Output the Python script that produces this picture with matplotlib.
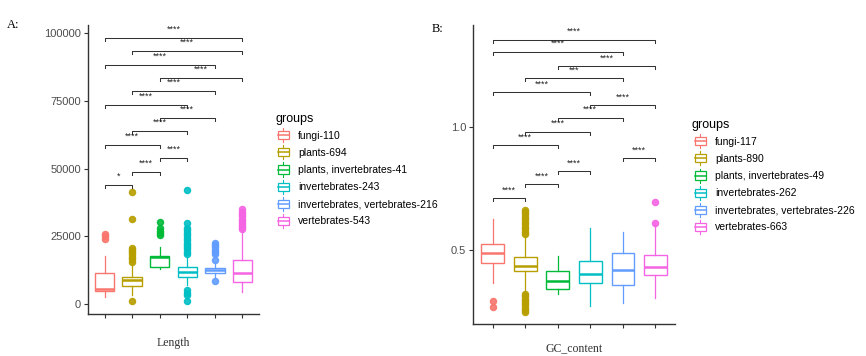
import matplotlib
matplotlib.use("Agg")
import matplotlib.pyplot as plt
from matplotlib.legend_handler import HandlerBase
from matplotlib.patches import Rectangle, Patch
from matplotlib.lines import Line2D

plt.rcParams["font.family"] = ["Liberation Sans", "DejaVu Sans"]

groups = ["fungi", "plants", "plants, invertebrates", "invertebrates",
          "invertebrates, vertebrates", "vertebrates"]
colors = ["#F8766D", "#B79F00", "#00BA38", "#00BFC4", "#619CFF", "#F564E3"]
counts_len = [110, 694, 41, 243, 216, 543]
counts_gc = [117, 890, 49, 262, 226, 663]

# Length box stats
len_whislo = [2500, 3300, 12800, 7000, 10100, 4500]
len_q1 = [4800, 6650, 13800, 10100, 11330, 8240]
len_med = [5540, 8980, 17360, 11820, 12440, 11330]
len_q3 = [11330, 10090, 17720, 13550, 13180, 16140]
len_whishi = [17700, 15200, 20900, 17500, 15000, 27000]
len_fliers = [
    [24000, 25000, 26000],
    [1100, 15600, 16500, 17400, 18300, 19200, 20100, 20600, 31300, 41500],
    [25500, 26300, 27100, 28000, 30400],
    [1100, 3300, 4200, 5200, 18500, 19300, 20200, 21000, 21800, 22600,
     23600, 24500, 25400, 26300, 27200, 28000, 30000, 42100],
    [8500, 16100, 18500, 19300, 20100, 20900, 21700, 22400],
    [27500, 28300, 29100, 29900, 30700, 31500, 32300, 33100, 34000, 35000],
]

# GC content box stats
gc_whislo = [0.365, 0.325, 0.320, 0.274, 0.287, 0.304]
gc_q1 = [0.446, 0.415, 0.341, 0.365, 0.358, 0.401]
gc_med = [0.487, 0.436, 0.374, 0.405, 0.419, 0.432]
gc_q3 = [0.527, 0.473, 0.415, 0.455, 0.487, 0.482]
gc_whishi = [0.626, 0.560, 0.477, 0.591, 0.575, 0.609]
gc_fliers = [
    [0.268, 0.293],
    [0.249, 0.258, 0.267, 0.276, 0.285, 0.294, 0.303, 0.312, 0.320,
     0.565, 0.575, 0.585, 0.595, 0.605, 0.615, 0.625, 0.635, 0.645, 0.655, 0.663],
    [],
    [],
    [],
    [0.609, 0.696],
]

# significance brackets
len_pairs = [(1, 2), (2, 3), (3, 4), (1, 3), (2, 4), (3, 5), (1, 4), (2, 5),
             (3, 6), (1, 5), (2, 6), (1, 6)]
len_bracket_y = [43900, 48700, 53900, 58700, 63900, 68700, 73500, 78700,
                 83500, 88300, 93400, 98200]
len_signif = ["*"] + ["****"] * 11

gc_pairs = [(1, 2), (2, 3), (3, 4), (5, 6), (1, 3), (2, 4), (3, 5), (4, 6),
            (1, 4), (2, 5), (3, 6), (1, 5), (1, 6)]
gc_bracket_y = [0.711, 0.768, 0.821, 0.874, 0.927, 0.980, 1.037, 1.089,
                1.142, 1.199, 1.248, 1.305, 1.354]
gc_signif = ["****"] * 9 + ["***"] + ["****"] * 3


class BoxKey(HandlerBase):
    def create_artists(self, legend, orig_handle, xdescent, ydescent,
                       width, height, fontsize, trans):
        c = orig_handle.get_edgecolor()
        x0, y0 = -xdescent, -ydescent
        bw, bh = width * 0.65, height * 0.58
        bx, by = x0 + (width - bw) / 2, y0 + (height - bh) / 2
        cx = x0 + width / 2
        w1 = Line2D([cx, cx], [y0, by], color=c, lw=0.8, transform=trans)
        w2 = Line2D([cx, cx], [by + bh, y0 + height], color=c, lw=0.8, transform=trans)
        box = Rectangle((bx, by), bw, bh, facecolor="white", edgecolor=c,
                        lw=0.9, transform=trans)
        med = Line2D([bx, bx + bw], [by + bh / 2] * 2, color=c, lw=1.1, transform=trans)
        return [w1, w2, box, med]


def draw_panel(ax, whislo, q1, med, q3, whishi, fliers, pairs, ys, signif, tick_d):
    stats = []
    for i in range(6):
        stats.append(dict(whislo=whislo[i], q1=q1[i], med=med[i], q3=q3[i],
                          whishi=whishi[i], fliers=fliers[i]))
    bp = ax.bxp(stats, positions=range(1, 7), widths=0.7, patch_artist=True,
                showcaps=False, manage_ticks=False)
    for i, c in enumerate(colors):
        bp["boxes"][i].set(facecolor="white", edgecolor=c, linewidth=1.0)
        bp["medians"][i].set(color=c, linewidth=1.8)
        for w in bp["whiskers"][2 * i:2 * i + 2]:
            w.set(color=c, linewidth=0.9, linestyle="-")
        bp["fliers"][i].set(marker="o", markerfacecolor=c, markeredgecolor=c,
                            markersize=4.4, alpha=0.9)

    for (a, b), y, s in zip(pairs, ys, signif):
        ax.plot([a, a, b, b], [y - tick_d, y, y, y - tick_d], color="#333333", lw=0.75)
        ax.annotate(s, ((a + b) / 2, y), xytext=(0, 6), textcoords="offset points",
                    ha="center", va="center", fontsize=6.5, color="#222222")

    ax.set_xlim(0.4, 6.6)
    ax.set_xticks(range(1, 7))
    ax.set_xticklabels([])
    for side in ["top", "right"]:
        ax.spines[side].set_visible(False)
    for side in ["left", "bottom"]:
        ax.spines[side].set_color("#333333")
        ax.spines[side].set_linewidth(1.0)
    ax.tick_params(length=3, width=0.8, color="#333333", labelsize=8,
                   labelcolor="#4D4D4D", pad=2)


fig = plt.figure(figsize=(8.66, 3.56), dpi=100)

axA = fig.add_axes([0.1016, 0.1180, 0.1975, 0.8118])
draw_panel(axA, len_whislo, len_q1, len_med, len_q3, len_whishi, len_fliers,
           len_pairs, len_bracket_y, len_signif, 1000)
axA.set_ylim(-3700, 103000)
axA.set_yticks([0, 25000, 50000, 75000, 100000])
axA.text(0.5, -0.10, "Length", transform=axA.transAxes, ha="center", va="center",
         family="Liberation Serif", fontsize=8.5, color="#333333")

axB = fig.add_axes([0.5462, 0.0899, 0.2333, 0.8399])
draw_panel(axB, gc_whislo, gc_q1, gc_med, gc_q3, gc_whishi, gc_fliers,
           gc_pairs, gc_bracket_y, gc_signif, 0.011)
axB.set_ylim(0.20, 1.415)
axB.set_yticks([0.5, 1.0])
axB.set_yticklabels(["0.5", "1.0"])
axB.text(0.5, -0.08, "GC_content", transform=axB.transAxes, ha="center", va="center",
         family="Liberation Serif", fontsize=8.5, color="#333333")

fig.text(7 / 866, 1 - 25 / 356, "A:", family="Liberation Serif", fontsize=9,
         va="center", ha="left")
fig.text(432 / 866, 1 - 29 / 356, "B:", family="Liberation Serif", fontsize=9,
         va="center", ha="left")

handles = [Patch(edgecolor=c, facecolor="white") for c in colors]
leg_kw = dict(title="groups", loc="upper left", frameon=False, fontsize=7.5,
              title_fontsize=9, handler_map={Patch: BoxKey()}, handlelength=1.6,
              handleheight=1.7, labelspacing=0.3, handletextpad=0.6, borderpad=0,
              borderaxespad=0, alignment="left")
fig.legend(handles, [f"{g}-{n}" for g, n in zip(groups, counts_len)],
           bbox_to_anchor=(275 / 866, 1 - 113 / 356), **leg_kw)
fig.legend(handles, [f"{g}-{n}" for g, n in zip(groups, counts_gc)],
           bbox_to_anchor=(692 / 866, 1 - 119 / 356), **leg_kw)

fig.savefig("out.png", dpi=100)
